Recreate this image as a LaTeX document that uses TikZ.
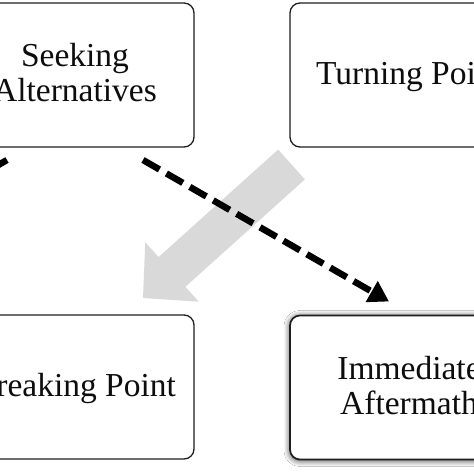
\documentclass[tikz,border=0pt]{standalone}
\usepackage{fontspec}
\setmainfont{Liberation Serif}
\usetikzlibrary{arrows.meta,calc,shadows.blur}
\definecolor{arrowgray}{RGB}{217,217,217}
\definecolor{boxline}{RGB}{30,30,30}
\begin{document}
\begin{tikzpicture}[x=1pt,y=1pt,
  stagebox/.style={draw=boxline, line width=1.3pt, rounded corners=10pt,
    minimum width=238pt, minimum height=144pt, inner sep=0pt, outer sep=0pt,
    align=center, fill=white, text=black!95,
    font=\fontsize{33.5}{35}\selectfont},
  shadowbox/.style={stagebox, line width=1.7pt,
    blur shadow={shadow xshift=0pt, shadow yshift=-1pt, shadow blur radius=6pt,
      shadow blur steps=20, shadow opacity=75}},
  flowarrow/.style={line width=6.5pt, dash pattern=on 19pt off 8pt,
    -{Triangle[length=20pt,width=23pt]}},
  bigarrow/.style={fill=arrowgray, draw=none}
]
\useasboundingbox (0,0) rectangle (474,474);
\clip (0,0) rectangle (474,474);
\fill[white] (0,0) rectangle (474,474);

\node[stagebox] (SA) at (75,399) {Seeking\\Alternatives\rule[-4.5pt]{0pt}{4.5pt}};
\node[stagebox] (TP) at (409,399) {\rule{0pt}{26pt}Turning Point};
\node[stagebox] (BP) at (75,87) {\rule{0pt}{26pt}Breaking Point};
\node[shadowbox] (IA) at (409,86.5) {Immediate\\Aftermath\rule[-4.5pt]{0pt}{4.5pt}};

% grey arrow from Turning Point to Breaking Point
\coordinate (gS) at ($(TP.south west)+(1.5,-17.5)$);
\coordinate (gT) at ($(BP.north east)+(-51,17)$);
\coordinate (gB) at ($(gT)!39pt!(gS)$);
\fill[bigarrow] (gT)
  -- ($(gB)!40pt!90:(gS)$)
  -- ($(gB)!20pt!90:(gS)$)
  -- ($(gS)!20pt!-90:(gB)$)
  -- ($(gS)!20pt!90:(gB)$)
  -- ($(gB)!20pt!-90:(gS)$)
  -- ($(gB)!40pt!-90:(gS)$)
  -- cycle;

% dashed arrows out of Seeking Alternatives
\coordinate (dR) at ($(SA.south)+(68,-13)$);
\coordinate (dRend) at ($(IA.north west)+(99,14)$);
\draw[flowarrow] (dR) -- (dRend);
\coordinate (dL) at ($(SA.south)+(-68,-13)$);
\coordinate (dLend) at ($(dL)+(-246,-142)$);
\draw[flowarrow] (dL) -- (dLend);
\end{tikzpicture}
\end{document}
